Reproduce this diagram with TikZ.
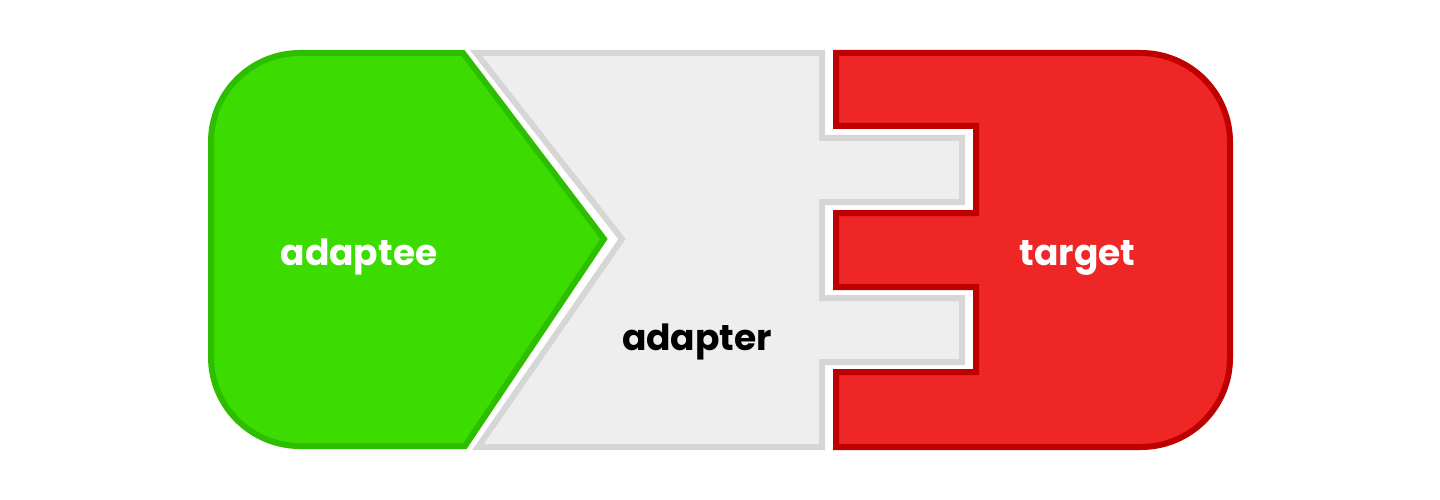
\documentclass[tikz,border=0pt]{standalone}
\usepackage{fontspec}
\setmainfont{Poppins}
\definecolor{gfill}{HTML}{3CDC00}
\definecolor{gline}{HTML}{2DBE00}
\definecolor{afill}{HTML}{EEEEEE}
\definecolor{aline}{HTML}{D6D6D6}
\definecolor{rfill}{HTML}{EE2626}
\definecolor{rline}{HTML}{BE0000}
\tikzset{
  part/.style={line width=6pt, line join=miter, miter limit=10},
  lbl/.style={anchor=base, inner sep=0pt, font=\bfseries\fontsize{36}{42}\selectfont},
}
\begin{document}
\begin{tikzpicture}[x=1pt,y=1pt]
\useasboundingbox (0,0) rectangle (1440,-500);
% adaptee
\draw[part, fill=gfill, draw=gline] (463,-53) -- (300,-53)
  arc[start angle=90, end angle=180, radius=89] -- (211,-357)
  arc[start angle=180, end angle=270, radius=89] -- (465,-446) -- (604,-239) -- cycle;
% adapter
\draw[part, fill=afill, draw=aline] (476,-53) -- (822,-53) -- (822,-138) -- (962,-138)
  -- (962,-202) -- (822,-202) -- (822,-298) -- (962,-298) -- (962,-362) -- (822,-362)
  -- (822,-447) -- (478,-447) -- (622,-239) -- cycle;
% target
\draw[part, fill=rfill, draw=rline] (836,-53) -- (1141,-53)
  arc[start angle=90, end angle=0, radius=89] -- (1230,-358)
  arc[start angle=0, end angle=-90, radius=89] -- (836,-447) -- (836,-372) -- (976,-372)
  -- (976,-287) -- (836,-287) -- (836,-213) -- (976,-213) -- (976,-126) -- (836,-126) -- cycle;
\node[lbl, text=white] (adaptee) at (359,-265) {adaptee};
\node[lbl, text=black] (adapter) at (697,-350) {adapter};
\node[lbl, text=white] (target) at (1077.5,-265) {target};
\end{tikzpicture}
\end{document}
